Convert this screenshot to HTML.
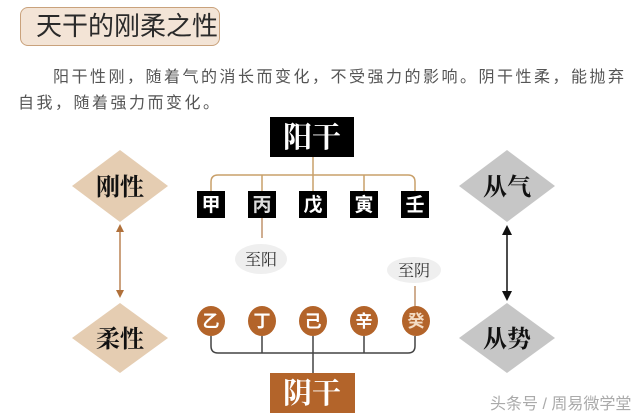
<!DOCTYPE html>
<html><head><meta charset="utf-8"><style>
html,body{margin:0;padding:0;background:#fff;}
body{width:640px;height:416px;position:relative;overflow:hidden;font-family:"Liberation Sans","Noto Sans CJK SC",sans-serif;}
.title{position:absolute;left:20px;top:7px;width:198px;height:37px;background:#f3e4d6;border:1.5px solid #c9a27c;border-radius:8px;}
.title span{position:absolute;left:15px;top:2px;font-size:26px;line-height:33px;color:#2a2a2a;white-space:nowrap;}
.p{position:absolute;font-size:16px;color:#555;letter-spacing:2.5px;white-space:nowrap;line-height:20px;}
</style></head><body>
<div class="title"><span>天干的刚柔之性</span></div>
<div class="p" style="left:53px;top:68px;">阳干性刚，随着气的消长而变化，不受强力的影响。阴干性柔，能抛弃</div>
<div class="p" style="left:18px;top:94px;">自我，随着强力而变化。</div>
<svg width="640" height="416" style="position:absolute;left:0;top:0" font-family="'Liberation Serif','Noto Serif CJK SC',serif">
<defs>
<marker id="ab" markerWidth="8" markerHeight="8" refX="4" refY="4" orient="auto-start-reverse" markerUnits="userSpaceOnUse"><path d="M0,0 L8,4 L0,8z" fill="#b0703a"/></marker>
<marker id="ak" markerWidth="10" markerHeight="10" refX="5" refY="5" orient="auto-start-reverse" markerUnits="userSpaceOnUse"><path d="M0,0 L10,5 L0,10z" fill="#111"/></marker>
</defs>
<path d="M211,191 V182 Q211,175 218,175 H408 Q415,175 415,182 V191" fill="none" stroke="#c9a06a" stroke-width="1.5"/>
<path d="M262,175 V191 M313,155 V191 M364,175 V191" stroke="#c9a06a" stroke-width="1.5"/>
<rect x="270" y="117" width="84" height="40" fill="#000"/>
<text x="312" y="147" font-size="29" fill="#fff" text-anchor="middle" font-weight="bold">阳干</text>
<g font-size="19" font-family="'Liberation Sans','Noto Sans CJK SC',sans-serif" font-weight="bold" fill="#fff" text-anchor="middle">
<rect x="197" y="191" width="28" height="27" fill="#000"/><text x="211" y="211">甲</text>
<rect x="248" y="191" width="28" height="27" fill="#000"/><text x="262" y="211" fill="#ddd">丙</text>
<rect x="299" y="191" width="28" height="27" fill="#000"/><text x="313" y="211">戊</text>
<rect x="350" y="191" width="28" height="27" fill="#000"/><text x="364" y="211">寅</text>
<rect x="401" y="191" width="28" height="27" fill="#000"/><text x="415" y="211">壬</text>
</g>
<path d="M262,218 V238" stroke="#b07848" stroke-width="1.2"/>
<ellipse cx="261" cy="259" rx="26" ry="15" fill="#efefef"/>
<text x="261" y="265" font-size="16" fill="#333" text-anchor="middle">至阳</text>
<ellipse cx="414" cy="270" rx="27" ry="13" fill="#efefef"/>
<text x="414" y="276" font-size="16" fill="#333" text-anchor="middle">至阴</text>
<path d="M415,307 V286" stroke="#b07848" stroke-width="1.2"/>
<polygon points="120,150 168,186 120,222 72,186" fill="#e5cdb2"/>
<polygon points="120,303 168,338 120,373 72,338" fill="#e5cdb2"/>
<polygon points="507,150 555,186 507,222 459,186" fill="#c6c6c6"/>
<polygon points="507,303 555,338 507,373 459,338" fill="#c6c6c6"/>
<g font-size="24" font-weight="bold" fill="#111" text-anchor="middle">
<text x="120" y="195">刚性</text><text x="120" y="347">柔性</text>
<text x="507" y="195">从气</text><text x="507" y="347">从势</text>
</g>
<line x1="120" y1="228" x2="120" y2="294" stroke="#b0703a" stroke-width="1.3" marker-start="url(#ab)" marker-end="url(#ab)"/>
<line x1="507" y1="230" x2="507" y2="296" stroke="#111" stroke-width="1.5" marker-start="url(#ak)" marker-end="url(#ak)"/>
<path d="M211,336 V346 Q211,353 218,353 H408 Q415,353 415,346 V336" fill="none" stroke="#444" stroke-width="1.5"/>
<path d="M262,336 V353 M313,336 V373 M364,336 V353" stroke="#444" stroke-width="1.5"/>
<g fill="#b3642a">
<ellipse cx="211" cy="321" rx="14" ry="15"/><ellipse cx="262" cy="321" rx="14" ry="15"/>
<ellipse cx="313" cy="321" rx="14" ry="15"/><ellipse cx="364" cy="321" rx="14" ry="15"/>
<ellipse cx="416" cy="321" rx="14" ry="15"/>
</g>
<g font-size="17" font-family="'Liberation Sans','Noto Sans CJK SC',sans-serif" font-weight="bold" fill="#fff" text-anchor="middle">
<text x="211" y="327">乙</text><text x="262" y="327">丁</text><text x="313" y="327">己</text><text x="364" y="327">辛</text><text x="416" y="327" fill="#f3dcc4">癸</text>
</g>
<rect x="270" y="373" width="85" height="40" fill="#b3642a"/>
<text x="312" y="403" font-size="29" fill="#fff" text-anchor="middle" font-weight="bold">阴干</text>
<text x="490" y="409" font-size="16" fill="#aaa" font-family="'Liberation Sans','Noto Sans CJK SC',sans-serif">头条号 / 周易微学堂</text>
</svg>
</body></html>
